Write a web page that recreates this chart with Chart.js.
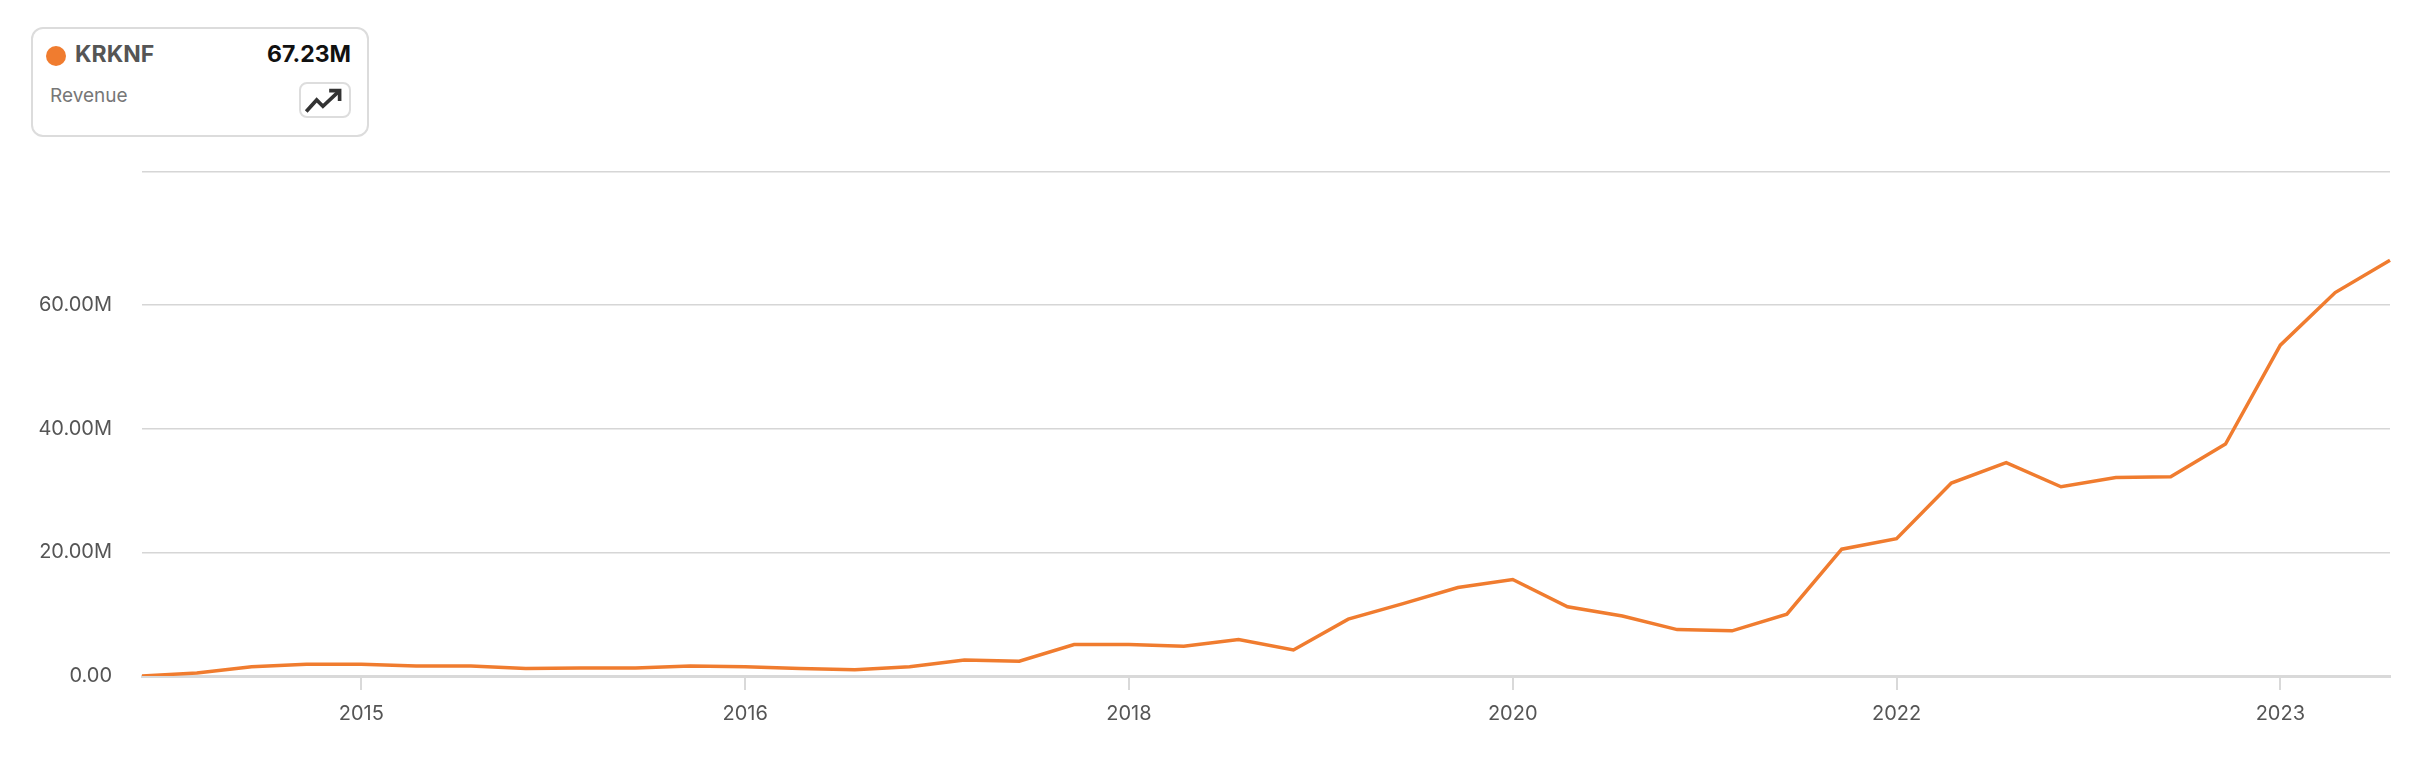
<!DOCTYPE html>
<html><head><meta charset="utf-8">
<script src="https://cdn.jsdelivr.net/npm/chart.js@4"></script>
<style>
html,body{margin:0;padding:0;background:#fff;width:2424px;height:782px;overflow:hidden;font-family:Inter,"Liberation Sans",sans-serif}
#wrap{position:absolute;left:0;top:0;width:2424px;height:782px}
#leg{position:absolute;left:31px;top:27px;width:338px;height:110px;border:2px solid #dcdcdc;border-radius:12px;box-sizing:border-box;background:#fff}
#dot{position:absolute;left:13px;top:17px;width:20px;height:20px;border-radius:50%;background:#f07c2f}
#sym{position:absolute;left:42px;top:11px;font-weight:700;font-size:23px;color:#555}
#val{position:absolute;right:16px;top:11px;font-weight:700;font-size:23px;color:#111}
#lab{position:absolute;left:17px;top:55px;font-size:19px;color:#777}
#ico{position:absolute;right:16px;top:53px;width:52px;height:36px;border:2px solid #ddd;border-radius:8px;box-sizing:border-box}
</style></head><body>
<div id="wrap"><canvas id="c" width="2424" height="782"></canvas></div>
<div id="leg"><div id="dot"></div><div id="sym">KRKNF</div><div id="val">67.23M</div><div id="lab">Revenue</div>
<div id="ico"><svg width="48" height="32" viewBox="0 0 46 30"><polyline points="5,26 15,15 21,21 36,7" fill="none" stroke="#333" stroke-width="3.5"/><polyline points="27,6 37,6 37,16" fill="none" stroke="#333" stroke-width="3.5"/></svg></div></div>
<script>
const labels = ["","","","","2015","","","","","","","2016","","","","","","","2018","","","","","","","2020","","","","","","","2022","","","","","","","2023","",""];
const revenue = [0,0.5,1.5,1.9,1.9,1.6,1.6,1.2,1.3,1.3,1.6,1.5,1.2,1.0,1.5,2.6,2.4,5.1,5.1,4.8,5.9,4.2,9.2,11.7,14.3,15.6,11.2,9.7,7.5,7.3,10.0,20.5,22.2,31.2,34.5,30.6,32.1,32.2,37.5,53.5,62.0,67.23];
const yTicks = [0,20,40,60];
new Chart(document.getElementById('c'),{
  type:'line',
  data:{labels:labels,datasets:[{data:revenue,borderColor:'#f07c2f',borderWidth:3.5,pointRadius:0,tension:0,fill:false}]},
  options:{
    responsive:false,animation:false,
    layout:{padding:{left:0,right:34,top:172,bottom:0}},
    plugins:{legend:{display:false},tooltip:{enabled:false}},
    scales:{
      x:{offset:false,
        afterFit:s=>{s.height=106;},
        grid:{drawOnChartArea:false,drawTicks:true,tickLength:14,color:c=>labels[c.index]?'#d9d9d9':'rgba(0,0,0,0)',lineWidth:2},
        border:{display:true,color:'#d9d9d9',width:3},
        ticks:{autoSkip:false,maxRotation:0,color:'#555',font:{size:20,family:'Inter, Liberation Sans, sans-serif'},padding:12}},
      y:{min:0,max:81.5,
        afterFit:s=>{s.width=142;},
        afterBuildTicks:s=>{s.ticks=yTicks.concat([81.5]).map(v=>({value:v}));},
        grid:{color:'#d6d6d6',lineWidth:1.5,drawTicks:false},
        border:{display:false},
        ticks:{color:'#555',padding:30,font:{size:20,family:'Inter, Liberation Sans, sans-serif'},
          callback:v=>yTicks.includes(v)?(v===0?'0.00':v.toFixed(2)+'M'):''}}
    }
  }
});
</script></body></html>
